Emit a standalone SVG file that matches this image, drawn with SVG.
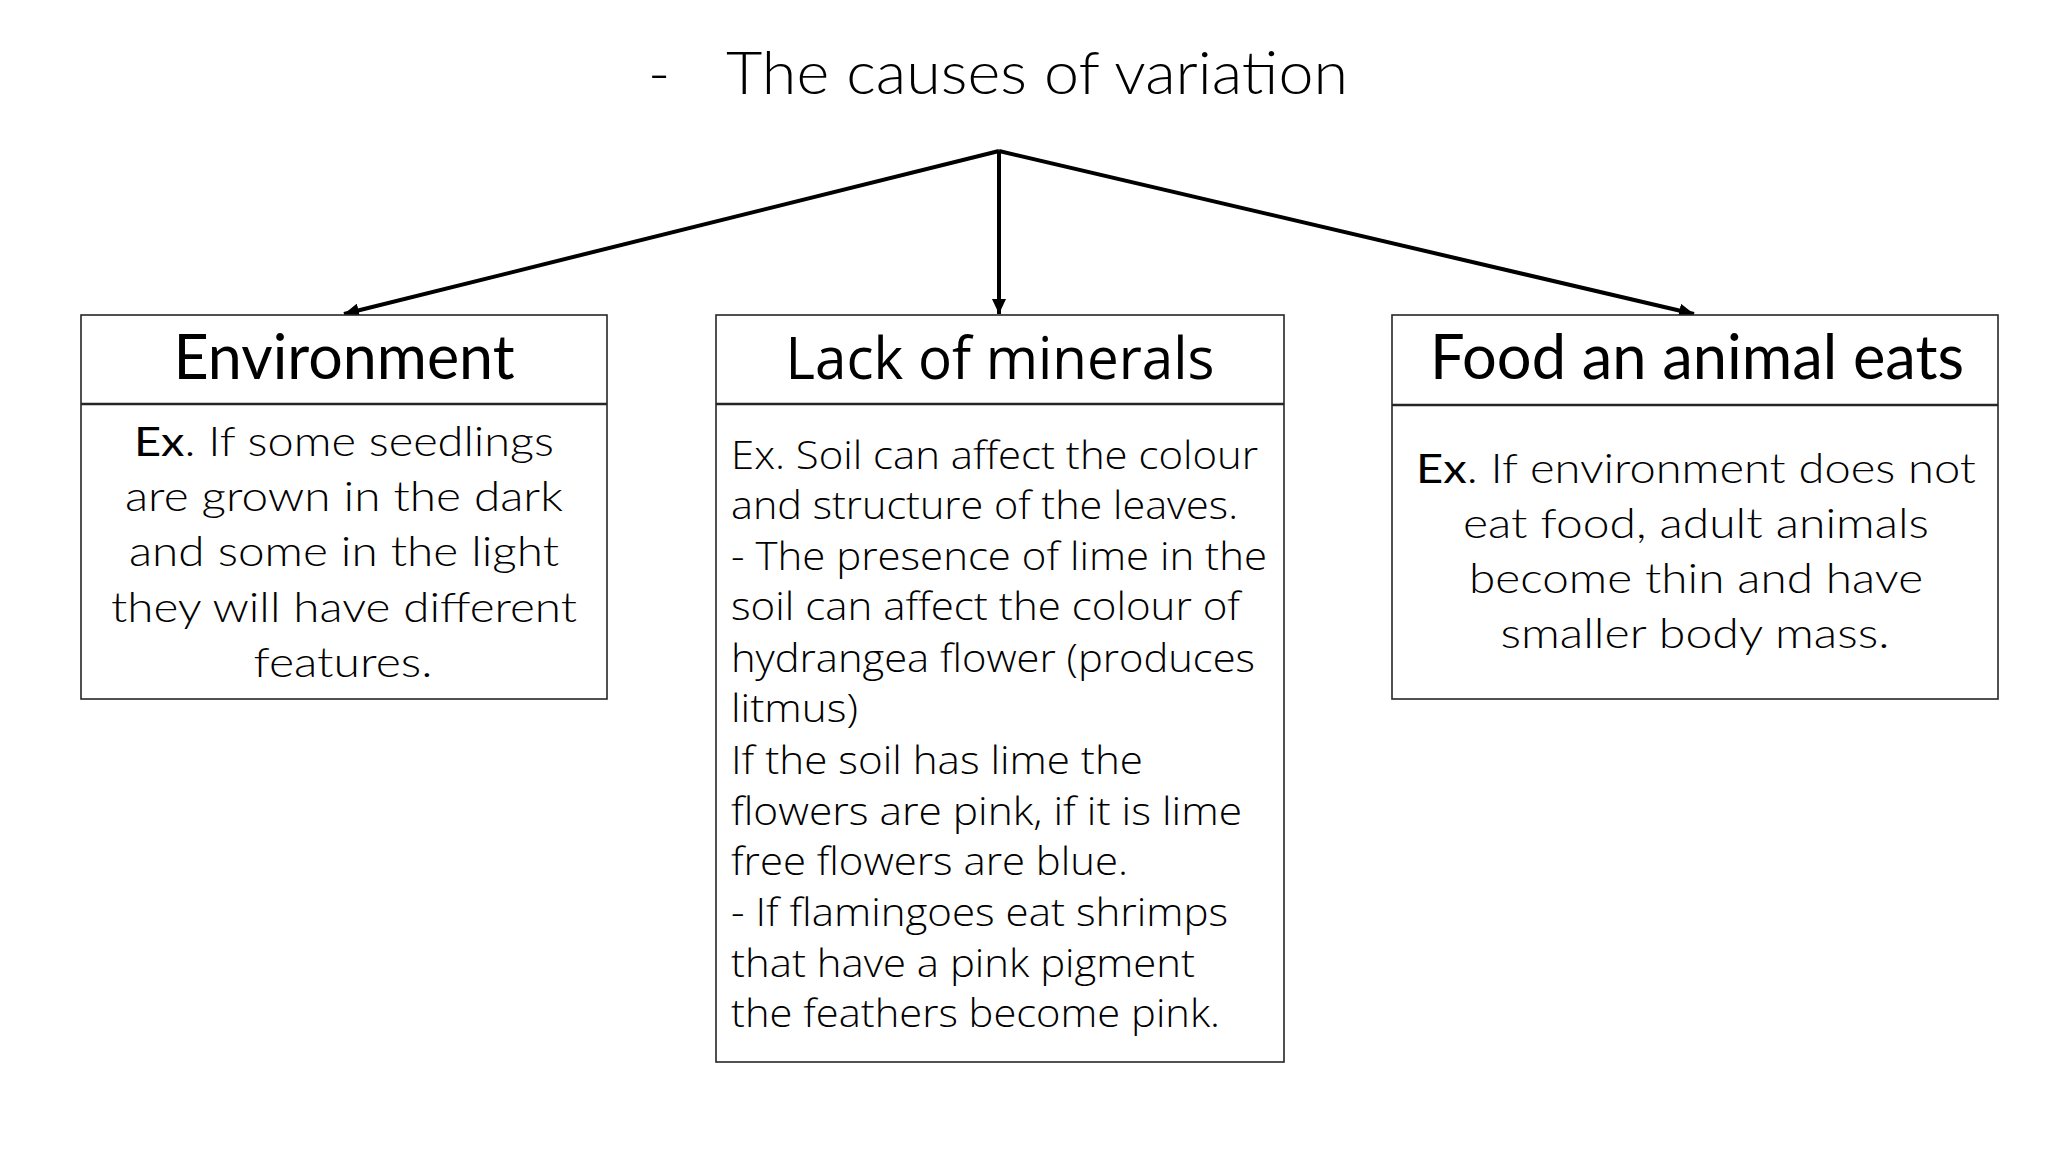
<svg xmlns="http://www.w3.org/2000/svg" width="2048" height="1152" viewBox="0 0 2048 1152">
<style>
.box{fill:#fff;stroke:#262626;stroke-width:1.6}
.div{stroke:#262626;stroke-width:2.4}
.conn{stroke:#000;stroke-width:4;fill:none}
.title{font-family:Lato,"Open Sans","Liberation Sans",sans-serif;font-weight:300;font-size:60px;fill:#000}
.head{font-family:Lato,"Open Sans","Liberation Sans",sans-serif;font-weight:400;font-size:61px;fill:#000;text-anchor:middle}
.head2{font-family:"Open Sans",Lato,"Liberation Sans",sans-serif;font-weight:500;font-size:58px;fill:#000;text-anchor:middle}
.body{font-family:Lato,"Open Sans","Liberation Sans",sans-serif;font-weight:300;font-size:41px;fill:#000;text-anchor:middle}
.body2{font-family:"Open Sans",Lato,"Liberation Sans",sans-serif;font-weight:300;font-size:38px;fill:#000}
.ex{font-weight:400}
</style>
<defs>
<marker id="arr" markerUnits="userSpaceOnUse" markerWidth="16" markerHeight="14" refX="15" refY="7" orient="auto">
<path d="M0,0 L15,7 L0,14 Z" fill="#000"/>
</marker>
</defs>
<rect width="2048" height="1152" fill="#fff"/>
<g id="title">
<text class="title" x="648" y="94">-</text>
<text class="title" x="726" y="94" textLength="622" lengthAdjust="spacingAndGlyphs">The causes of variation</text>
</g>
<g id="connectors">
<line class="conn" x1="999" y1="151" x2="999" y2="314" marker-end="url(#arr)"/>
<line class="conn" x1="999" y1="151" x2="344" y2="314" marker-end="url(#arr)"/>
<line class="conn" x1="999" y1="151" x2="1694" y2="314" marker-end="url(#arr)"/>
</g>
<g id="environment">
<rect class="box" x="81" y="315" width="526" height="384"/>
<line class="div" x1="81" y1="404" x2="607" y2="404"/>
<text class="head" x="344" y="379" textLength="341" lengthAdjust="spacingAndGlyphs">Environment</text>
<text class="body" x="344" y="456" textLength="420" lengthAdjust="spacingAndGlyphs"><tspan class="ex">Ex</tspan>. If some seedlings</text>
<text class="body" x="344" y="511" textLength="438" lengthAdjust="spacingAndGlyphs">are grown in the dark</text>
<text class="body" x="344" y="566" textLength="430" lengthAdjust="spacingAndGlyphs">and some in the light</text>
<text class="body" x="344" y="622" textLength="466" lengthAdjust="spacingAndGlyphs">they will have different</text>
<text class="body" x="343" y="677" textLength="179" lengthAdjust="spacingAndGlyphs">features.</text>
</g>
<g id="lack-of-minerals">
<rect class="box" x="716" y="315" width="568" height="747"/>
<line class="div" x1="716" y1="404" x2="1284" y2="404"/>
<text class="head2" x="1000" y="379" textLength="429" lengthAdjust="spacingAndGlyphs">Lack of minerals</text>
<text class="body2" x="731" y="469" textLength="527" lengthAdjust="spacingAndGlyphs">Ex. Soil can affect the colour</text>
<text class="body2" x="731" y="519" textLength="507" lengthAdjust="spacingAndGlyphs">and structure of the leaves.</text>
<text class="body2" x="731" y="570" textLength="536" lengthAdjust="spacingAndGlyphs">- The presence of lime in the</text>
<text class="body2" x="731" y="620" textLength="509" lengthAdjust="spacingAndGlyphs">soil can affect the colour of</text>
<text class="body2" x="731" y="672" textLength="524" lengthAdjust="spacingAndGlyphs">hydrangea flower (produces</text>
<text class="body2" x="731" y="722" textLength="127" lengthAdjust="spacingAndGlyphs">litmus)</text>
<text class="body2" x="731" y="774" textLength="412" lengthAdjust="spacingAndGlyphs">If the soil has lime the</text>
<text class="body2" x="731" y="825" textLength="511" lengthAdjust="spacingAndGlyphs">flowers are pink, if it is lime</text>
<text class="body2" x="731" y="875" textLength="397" lengthAdjust="spacingAndGlyphs">free flowers are blue.</text>
<text class="body2" x="731" y="926" textLength="497" lengthAdjust="spacingAndGlyphs">- If flamingoes eat shrimps</text>
<text class="body2" x="731" y="977" textLength="464" lengthAdjust="spacingAndGlyphs">that have a pink pigment</text>
<text class="body2" x="731" y="1027" textLength="489" lengthAdjust="spacingAndGlyphs">the feathers become pink.</text>
</g>
<g id="food-an-animal-eats">
<rect class="box" x="1392" y="315" width="606" height="384"/>
<line class="div" x1="1392" y1="405" x2="1998" y2="405"/>
<text class="head" x="1697" y="379" textLength="534" lengthAdjust="spacingAndGlyphs">Food an animal eats</text>
<text class="body" x="1696" y="483" textLength="560" lengthAdjust="spacingAndGlyphs"><tspan class="ex">Ex</tspan>. If environment does not</text>
<text class="body" x="1696" y="538" textLength="466" lengthAdjust="spacingAndGlyphs">eat food, adult animals</text>
<text class="body" x="1696" y="593" textLength="454" lengthAdjust="spacingAndGlyphs">become thin and have</text>
<text class="body" x="1695" y="648" textLength="389" lengthAdjust="spacingAndGlyphs">smaller body mass.</text>
</g>
</svg>
